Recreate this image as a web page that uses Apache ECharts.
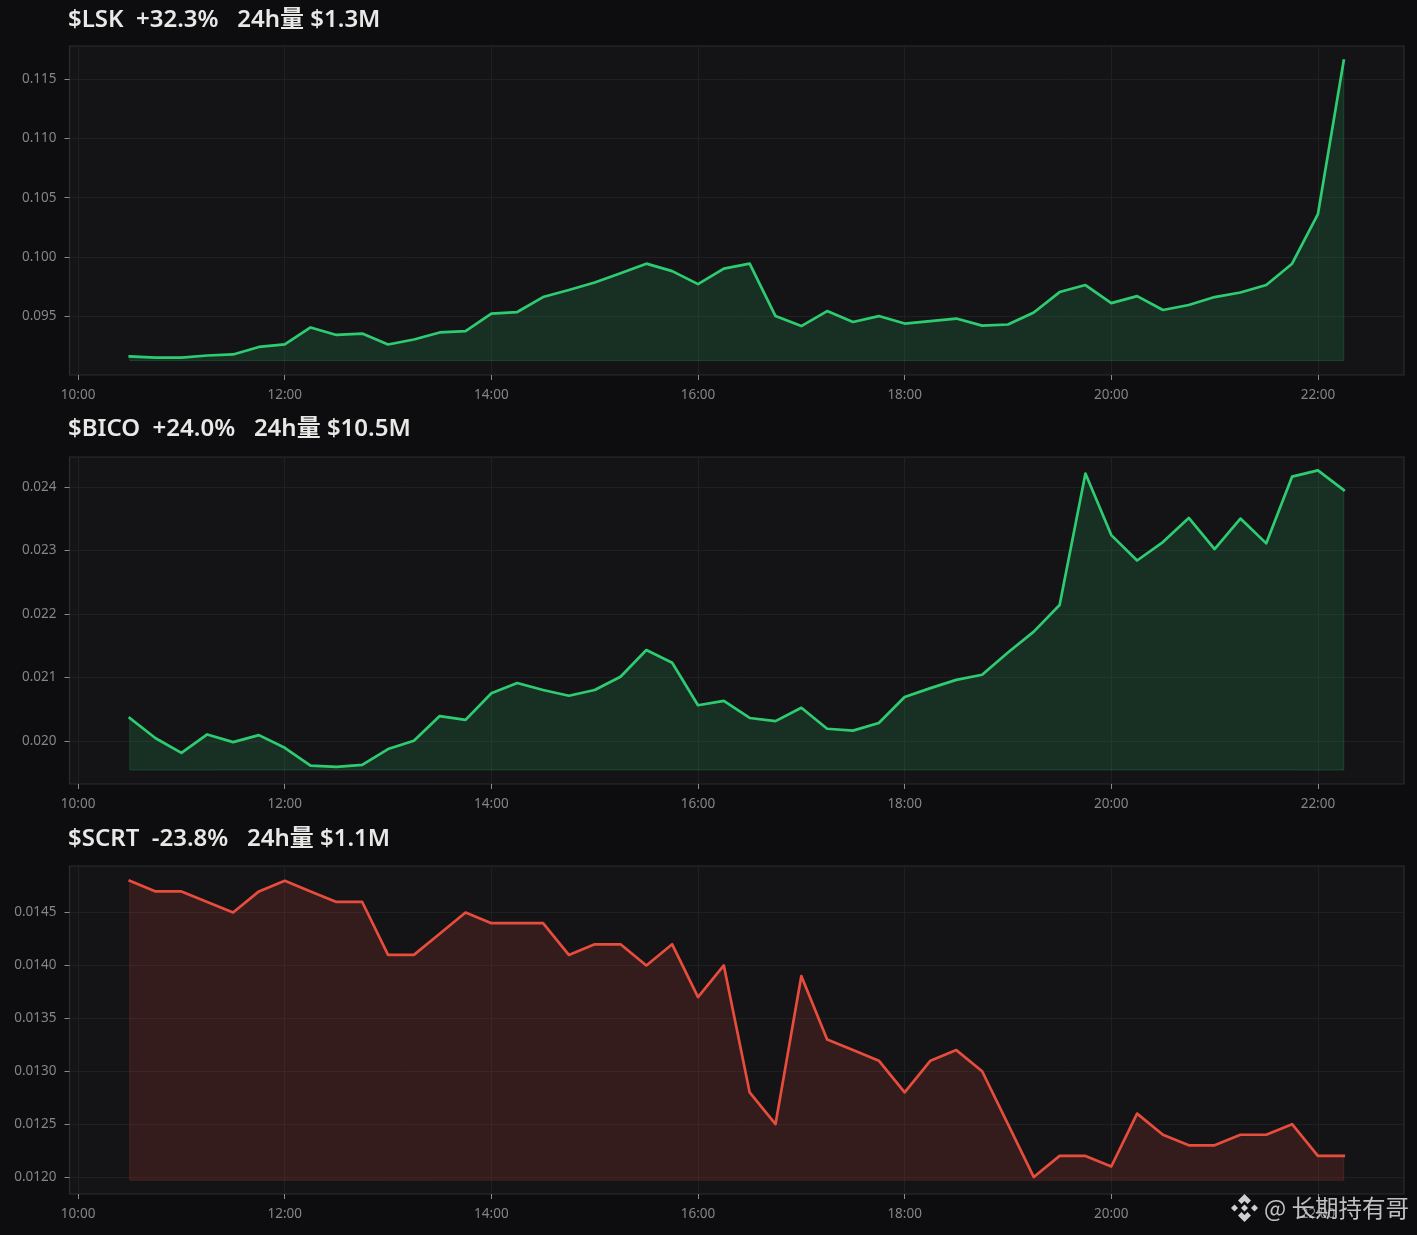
<!DOCTYPE html>
<html><head><meta charset="utf-8">
<style>html,body{margin:0;padding:0;background:#0d0d10}#c{width:1417px;height:1235px}</style>
<script src="https://cdn.jsdelivr.net/npm/echarts@6/dist/echarts.min.js"></script>
</head><body><div id="c"></div>
<script>
const times = [10.5,10.75,11,11.25,11.5,11.75,12,12.25,12.5,12.75,13,13.25,13.5,13.75,14,14.25,14.5,14.75,15,15.25,15.5,15.75,16,16.25,16.5,16.75,17,17.25,17.5,17.75,18,18.25,18.5,18.75,19,19.25,19.5,19.75,20,20.25,20.5,20.75,21,21.25,21.5,21.75,22,22.25];
const xTicks = [10,12,14,16,18,20,22];
const lsk = [.09164,.09155,.09155,.09172,.09181,.09244,.09265,.09408,.09345,.09357,.09265,.09307,.09366,.09378,.09525,.09538,.09664,.09723,.09786,.09865,.09945,.09882,.09773,.09903,.09945,.09504,.0942,.09546,.09454,.09504,.09441,.09462,.09483,.09424,.09433,.09534,.09706,.09765,.09613,.09672,.09555,.09597,.09664,.09702,.09765,.09945,.10361,.11655];
const bico = [.02036,.02004,.01981,.0201,.01998,.02009,.01989,.01961,.01959,.01962,.01987,.02,.02039,.02033,.02075,.02091,.0208,.02071,.0208,.02101,.02143,.02123,.02056,.02063,.02036,.02031,.02052,.02019,.02016,.02028,.02069,.02083,.02096,.02104,.02139,.02172,.02214,.02421,.02324,.02284,.02313,.02351,.02302,.0235,.02311,.02416,.02426,.02395];
const scrt = [.0148,.0147,.0147,.0146,.0145,.0147,.0148,.0147,.0146,.0146,.0141,.0141,.0143,.0145,.0144,.0144,.0144,.0141,.0142,.0142,.0140,.0142,.0137,.0140,.0128,.0125,.0139,.0133,.0132,.0131,.0128,.0131,.0132,.0130,.0125,.0120,.0122,.0122,.0121,.0126,.0124,.0123,.0123,.0124,.0124,.0125,.0122,.0122];
const titles = ['$LSK  +32.3%   24h量 $1.3M','$BICO  +24.0%   24h量 $10.5M','$SCRT  -23.8%   24h量 $1.1M'];
const yTicksA = [.095,.1,.105,.11,.115];
const yTicksB = [.02,.021,.022,.023,.024];
const yTicksC = [.012,.0125,.013,.0135,.014,.0145];
const yDigits = [3,3,4];
const yRanges = [[.09008,.11777],[.01932,.02447],[.01184,.01494]];
const bases = [.0913,.01954,.01197];
const palette = ['#2ecc71','#2ecc71','#e74c3c'];
const tops = [46,457,866], bottoms = [375,784,1194], titleTops = [3,412,822];
const FONT = '"Noto Sans","Noto Sans CJK SC",sans-serif';
const GRID='#1f2022', BORDER='#2b2c2e', TICK='#8a8a8a', LABEL='#858585';
const data=[lsk,bico,scrt], yTicks=[yTicksA,yTicksB,yTicksC];
const grids=[],xAxes=[],yAxes=[],series=[],ts=[];
const last=times.length-1;
data.forEach((d,i)=>{
  grids.push({left:69.5,width:1334.5,top:tops[i],height:bottoms[i]-tops[i],show:true,backgroundColor:'#141416',borderColor:BORDER,borderWidth:1.2});
  xAxes.push({type:'value',gridIndex:i,min:9.9167,max:22.8333,
    axisLine:{show:false},
    axisTick:{show:true,length:5,customValues:xTicks,lineStyle:{color:TICK,width:1}},
    splitLine:{show:true,lineStyle:{color:GRID,width:1}},
    axisLabel:{customValues:xTicks,color:LABEL,fontSize:13.5,fontFamily:FONT,margin:13,formatter:v=>String(v)+':00'}});
  yAxes.push({type:'value',gridIndex:i,min:yRanges[i][0],max:yRanges[i][1],
    axisLine:{show:false},
    axisTick:{show:true,length:5,customValues:yTicks[i],lineStyle:{color:TICK,width:1}},
    splitLine:{show:true,lineStyle:{color:GRID,width:1}},
    axisLabel:{customValues:yTicks[i],color:LABEL,fontSize:13.5,fontFamily:FONT,margin:13,formatter:v=>v.toFixed(yDigits[i])}});
  series.push({type:'line',xAxisIndex:i,yAxisIndex:i,silent:true,showSymbol:false,z:2,
    data:[[times[0],d[0]],[times[0],bases[i]],[times[last],bases[i]],[times[last],d[last]]],
    lineStyle:{color:palette[i],width:1,opacity:.2}});
  series.push({type:'line',xAxisIndex:i,yAxisIndex:i,data:d.map((v,k)=>[times[k],v]),showSymbol:false,silent:true,
    lineStyle:{color:palette[i],width:2.7,join:'round',cap:'square'},
    areaStyle:{color:palette[i],opacity:.15,origin:bases[i]},z:3});
  ts.push({text:titles[i],left:63,top:titleTops[i],textStyle:{color:'#e8e8e6',fontSize:24,fontWeight:600,fontFamily:FONT}});
});
const chart=echarts.init(document.getElementById('c'),null,{renderer:'canvas'});
const WM='#cfcfcf';
chart.setOption({animation:false,backgroundColor:'#0d0d10',title:ts,grid:grids,xAxis:xAxes,yAxis:yAxes,series,
  graphic:[
    {type:'text',left:1264,top:1196,z:20,style:{text:'@ 长期持有哥',fill:WM,opacity:.92,fontSize:23.5,fontFamily:'"Noto Sans CJK SC","Noto Sans",sans-serif'}},
    {type:'group',left:1231,top:1194,z:20,children:[
      {type:'polygon',shape:{points:[[13.5,0],[20,6.5],[16.5,10],[13.5,7],[10.5,10],[7,6.5]]},style:{fill:WM}},
      {type:'polygon',shape:{points:[[13.5,28],[20,21.5],[16.5,18],[13.5,21],[10.5,18],[7,21.5]]},style:{fill:WM}},
      {type:'polygon',shape:{points:[[0,14],[3.5,10.5],[7,14],[3.5,17.5]]},style:{fill:WM}},
      {type:'polygon',shape:{points:[[20,14],[23.5,10.5],[27,14],[23.5,17.5]]},style:{fill:WM}},
      {type:'polygon',shape:{points:[[13.5,10.5],[17,14],[13.5,17.5],[10,14]]},style:{fill:WM}}
    ]}
  ]});
</script></body></html>
